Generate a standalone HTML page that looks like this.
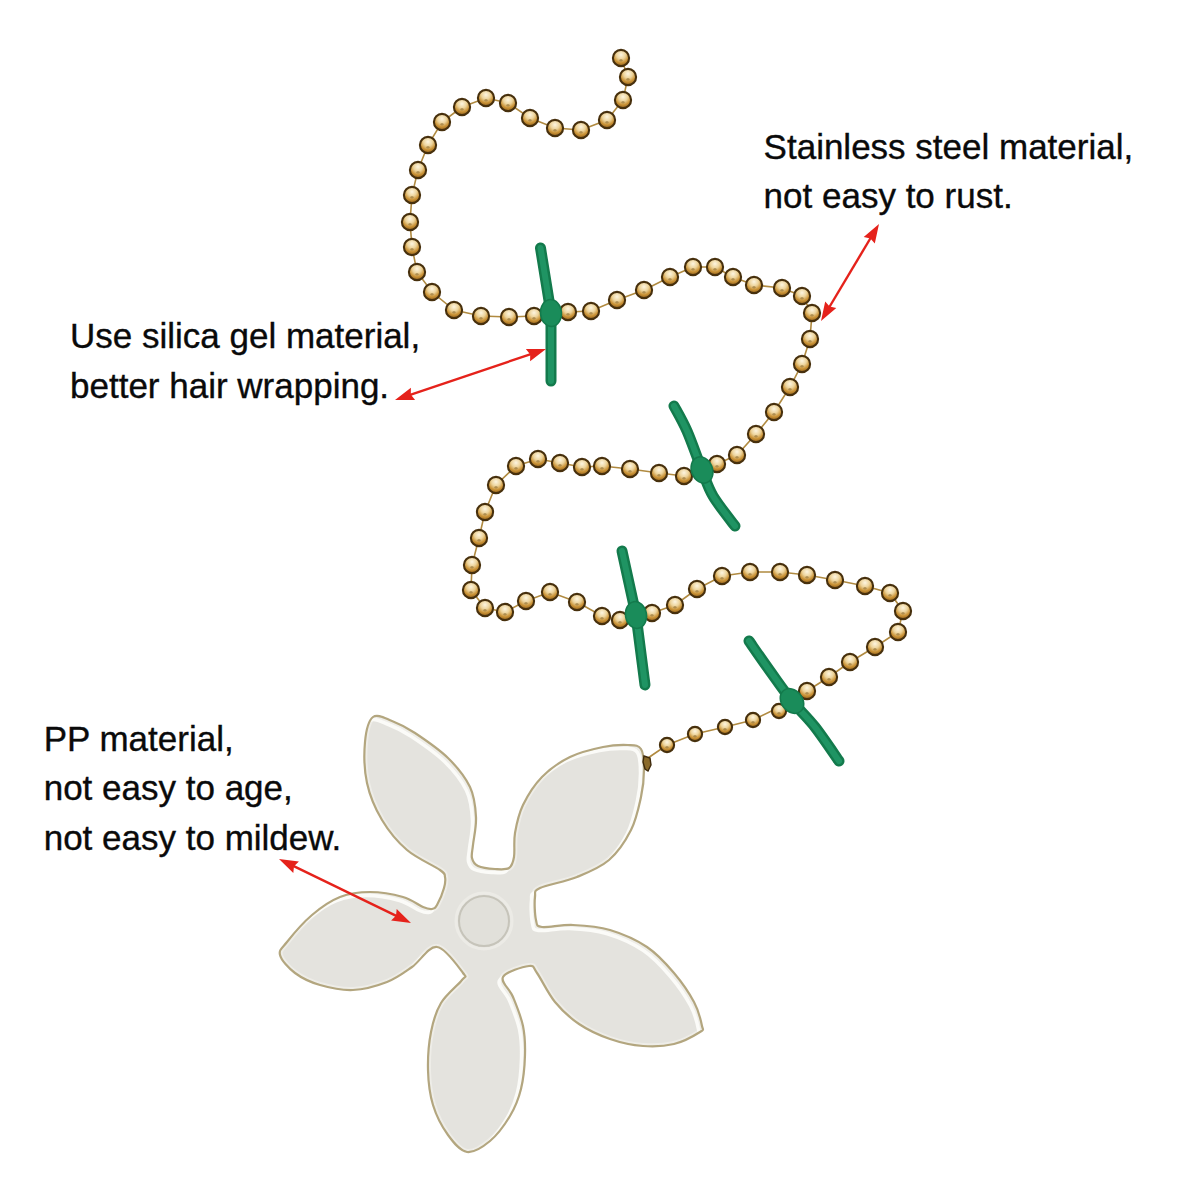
<!DOCTYPE html>
<html><head><meta charset="utf-8"><style>
html,body{margin:0;padding:0;background:#fff;}
#root{position:relative;width:1200px;height:1200px;overflow:hidden;background:#fff;}
.t{position:absolute;font-family:"Liberation Sans",sans-serif;font-size:35px;line-height:35px;color:#0a0a0a;white-space:nowrap;-webkit-text-stroke:0.35px #0a0a0a;}
</style></head><body><div id="root">
<svg width="1200" height="1200" viewBox="0 0 1200 1200" style="position:absolute;left:0;top:0"><defs>
<radialGradient id="bg" cx="50%" cy="30%" r="68%">
<stop offset="0" stop-color="#fdf5e0"/><stop offset="0.4" stop-color="#edd49c"/><stop offset="0.72" stop-color="#ca9337"/><stop offset="1" stop-color="#98661e"/>
</radialGradient>
</defs><clipPath id="fc"><path d="M373,717 C377.5,713.5 385.0,718.3 392,721 C399.0,723.7 405.7,726.8 415,733 C424.3,739.2 438.8,749.0 448,758 C457.2,767.0 465.3,777.2 470,787 C474.7,796.8 475.5,807.3 476,817 C476.5,826.7 473.7,838.2 473,845 C472.3,851.8 471.2,854.5 472,858 C472.8,861.5 474.2,864.2 478,866 C481.8,867.8 489.8,868.7 495,869 C500.2,869.3 505.8,870.0 509,868 C512.2,866.0 513.0,862.8 514,857 C515.0,851.2 513.5,841.7 515,833 C516.5,824.3 518.5,814.3 523,805 C527.5,795.7 534.2,785.0 542,777 C549.8,769.0 559.8,762.0 570,757 C580.2,752.0 593.3,749.0 603,747 C612.7,745.0 621.7,744.7 628,745 C634.3,745.3 638.3,744.8 641,749 C643.7,753.2 644.0,762.0 644,770 C644.0,778.0 643.2,787.0 641,797 C638.8,807.0 636.3,819.5 631,830 C625.7,840.5 618.0,852.2 609,860 C600.0,867.8 588.5,872.3 577,877 C565.5,881.7 547.0,884.7 540,888 C533.0,891.3 535.7,891.7 535,897 C534.3,902.3 534.8,915.0 536,920 C537.2,925.0 535.8,926.2 542,927 C548.2,927.8 561.7,924.5 573,925 C584.3,925.5 597.7,926.3 610,930 C622.3,933.7 636.3,939.8 647,947 C657.7,954.2 666.2,963.8 674,973 C681.8,982.2 689.3,993.2 694,1002 C698.7,1010.8 701.0,1021.0 702,1026 C703.0,1031.0 704.7,1029.0 700,1032 C695.3,1035.0 683.5,1041.7 674,1044 C664.5,1046.3 653.7,1046.8 643,1046 C632.3,1045.2 620.7,1042.7 610,1039 C599.3,1035.3 588.2,1030.2 579,1024 C569.8,1017.8 562.0,1010.5 555,1002 C548.0,993.5 541.3,979.0 537,973 C532.7,967.0 534.7,965.3 529,966 C523.3,966.7 505.7,971.8 503,977 C500.3,982.2 509.7,988.8 513,997 C516.3,1005.2 521.0,1016.3 523,1026 C525.0,1035.7 525.3,1044.5 525,1055 C524.7,1065.5 523.5,1078.8 521,1089 C518.5,1099.2 515.2,1107.3 510,1116 C504.8,1124.7 497.2,1135.0 490,1141 C482.8,1147.0 474.0,1153.0 467,1152 C460.0,1151.0 453.7,1142.8 448,1135 C442.3,1127.2 436.3,1115.8 433,1105 C429.7,1094.2 428.3,1082.2 428,1070 C427.7,1057.8 428.8,1043.2 431,1032 C433.2,1020.8 435.8,1011.7 441,1003 C446.2,994.3 458.3,985.0 462,980 C465.7,975.0 467.2,978.5 463,973 C458.8,967.5 445.5,948.0 437,947 C428.5,946.0 420.3,961.2 412,967 C403.7,972.8 396.8,978.2 387,982 C377.2,985.8 364.2,989.5 353,990 C341.8,990.5 329.7,987.8 320,985 C310.3,982.2 301.7,978.0 295,973 C288.3,968.0 281.3,960.2 280,955 C278.7,949.8 281.7,948.7 287,942 C292.3,935.3 303.2,922.5 312,915 C320.8,907.5 330.3,900.8 340,897 C349.7,893.2 359.5,892.0 370,892 C380.5,892.0 394.2,894.5 403,897 C411.8,899.5 418.2,905.0 423,907 C427.8,909.0 429.7,909.3 432,909 C434.3,908.7 435.0,908.5 437,905 C439.0,901.5 442.7,892.7 444,888 C445.3,883.3 445.7,880.0 445,877 C444.3,874.0 446.3,874.5 440,870 C433.7,865.5 416.7,858.3 407,850 C397.3,841.7 388.7,831.2 382,820 C375.3,808.8 369.8,796.0 367,783 C364.2,770.0 364.0,753.0 365,742 C366.0,731.0 368.5,720.5 373,717Z"/></clipPath><path d="M373,717 C377.5,713.5 385.0,718.3 392,721 C399.0,723.7 405.7,726.8 415,733 C424.3,739.2 438.8,749.0 448,758 C457.2,767.0 465.3,777.2 470,787 C474.7,796.8 475.5,807.3 476,817 C476.5,826.7 473.7,838.2 473,845 C472.3,851.8 471.2,854.5 472,858 C472.8,861.5 474.2,864.2 478,866 C481.8,867.8 489.8,868.7 495,869 C500.2,869.3 505.8,870.0 509,868 C512.2,866.0 513.0,862.8 514,857 C515.0,851.2 513.5,841.7 515,833 C516.5,824.3 518.5,814.3 523,805 C527.5,795.7 534.2,785.0 542,777 C549.8,769.0 559.8,762.0 570,757 C580.2,752.0 593.3,749.0 603,747 C612.7,745.0 621.7,744.7 628,745 C634.3,745.3 638.3,744.8 641,749 C643.7,753.2 644.0,762.0 644,770 C644.0,778.0 643.2,787.0 641,797 C638.8,807.0 636.3,819.5 631,830 C625.7,840.5 618.0,852.2 609,860 C600.0,867.8 588.5,872.3 577,877 C565.5,881.7 547.0,884.7 540,888 C533.0,891.3 535.7,891.7 535,897 C534.3,902.3 534.8,915.0 536,920 C537.2,925.0 535.8,926.2 542,927 C548.2,927.8 561.7,924.5 573,925 C584.3,925.5 597.7,926.3 610,930 C622.3,933.7 636.3,939.8 647,947 C657.7,954.2 666.2,963.8 674,973 C681.8,982.2 689.3,993.2 694,1002 C698.7,1010.8 701.0,1021.0 702,1026 C703.0,1031.0 704.7,1029.0 700,1032 C695.3,1035.0 683.5,1041.7 674,1044 C664.5,1046.3 653.7,1046.8 643,1046 C632.3,1045.2 620.7,1042.7 610,1039 C599.3,1035.3 588.2,1030.2 579,1024 C569.8,1017.8 562.0,1010.5 555,1002 C548.0,993.5 541.3,979.0 537,973 C532.7,967.0 534.7,965.3 529,966 C523.3,966.7 505.7,971.8 503,977 C500.3,982.2 509.7,988.8 513,997 C516.3,1005.2 521.0,1016.3 523,1026 C525.0,1035.7 525.3,1044.5 525,1055 C524.7,1065.5 523.5,1078.8 521,1089 C518.5,1099.2 515.2,1107.3 510,1116 C504.8,1124.7 497.2,1135.0 490,1141 C482.8,1147.0 474.0,1153.0 467,1152 C460.0,1151.0 453.7,1142.8 448,1135 C442.3,1127.2 436.3,1115.8 433,1105 C429.7,1094.2 428.3,1082.2 428,1070 C427.7,1057.8 428.8,1043.2 431,1032 C433.2,1020.8 435.8,1011.7 441,1003 C446.2,994.3 458.3,985.0 462,980 C465.7,975.0 467.2,978.5 463,973 C458.8,967.5 445.5,948.0 437,947 C428.5,946.0 420.3,961.2 412,967 C403.7,972.8 396.8,978.2 387,982 C377.2,985.8 364.2,989.5 353,990 C341.8,990.5 329.7,987.8 320,985 C310.3,982.2 301.7,978.0 295,973 C288.3,968.0 281.3,960.2 280,955 C278.7,949.8 281.7,948.7 287,942 C292.3,935.3 303.2,922.5 312,915 C320.8,907.5 330.3,900.8 340,897 C349.7,893.2 359.5,892.0 370,892 C380.5,892.0 394.2,894.5 403,897 C411.8,899.5 418.2,905.0 423,907 C427.8,909.0 429.7,909.3 432,909 C434.3,908.7 435.0,908.5 437,905 C439.0,901.5 442.7,892.7 444,888 C445.3,883.3 445.7,880.0 445,877 C444.3,874.0 446.3,874.5 440,870 C433.7,865.5 416.7,858.3 407,850 C397.3,841.7 388.7,831.2 382,820 C375.3,808.8 369.8,796.0 367,783 C364.2,770.0 364.0,753.0 365,742 C366.0,731.0 368.5,720.5 373,717Z" fill="#e4e3de"/><path d="M373,717 C377.5,713.5 385.0,718.3 392,721 C399.0,723.7 405.7,726.8 415,733 C424.3,739.2 438.8,749.0 448,758 C457.2,767.0 465.3,777.2 470,787 C474.7,796.8 475.5,807.3 476,817 C476.5,826.7 473.7,838.2 473,845 C472.3,851.8 471.2,854.5 472,858 C472.8,861.5 474.2,864.2 478,866 C481.8,867.8 489.8,868.7 495,869 C500.2,869.3 505.8,870.0 509,868 C512.2,866.0 513.0,862.8 514,857 C515.0,851.2 513.5,841.7 515,833 C516.5,824.3 518.5,814.3 523,805 C527.5,795.7 534.2,785.0 542,777 C549.8,769.0 559.8,762.0 570,757 C580.2,752.0 593.3,749.0 603,747 C612.7,745.0 621.7,744.7 628,745 C634.3,745.3 638.3,744.8 641,749 C643.7,753.2 644.0,762.0 644,770 C644.0,778.0 643.2,787.0 641,797 C638.8,807.0 636.3,819.5 631,830 C625.7,840.5 618.0,852.2 609,860 C600.0,867.8 588.5,872.3 577,877 C565.5,881.7 547.0,884.7 540,888 C533.0,891.3 535.7,891.7 535,897 C534.3,902.3 534.8,915.0 536,920 C537.2,925.0 535.8,926.2 542,927 C548.2,927.8 561.7,924.5 573,925 C584.3,925.5 597.7,926.3 610,930 C622.3,933.7 636.3,939.8 647,947 C657.7,954.2 666.2,963.8 674,973 C681.8,982.2 689.3,993.2 694,1002 C698.7,1010.8 701.0,1021.0 702,1026 C703.0,1031.0 704.7,1029.0 700,1032 C695.3,1035.0 683.5,1041.7 674,1044 C664.5,1046.3 653.7,1046.8 643,1046 C632.3,1045.2 620.7,1042.7 610,1039 C599.3,1035.3 588.2,1030.2 579,1024 C569.8,1017.8 562.0,1010.5 555,1002 C548.0,993.5 541.3,979.0 537,973 C532.7,967.0 534.7,965.3 529,966 C523.3,966.7 505.7,971.8 503,977 C500.3,982.2 509.7,988.8 513,997 C516.3,1005.2 521.0,1016.3 523,1026 C525.0,1035.7 525.3,1044.5 525,1055 C524.7,1065.5 523.5,1078.8 521,1089 C518.5,1099.2 515.2,1107.3 510,1116 C504.8,1124.7 497.2,1135.0 490,1141 C482.8,1147.0 474.0,1153.0 467,1152 C460.0,1151.0 453.7,1142.8 448,1135 C442.3,1127.2 436.3,1115.8 433,1105 C429.7,1094.2 428.3,1082.2 428,1070 C427.7,1057.8 428.8,1043.2 431,1032 C433.2,1020.8 435.8,1011.7 441,1003 C446.2,994.3 458.3,985.0 462,980 C465.7,975.0 467.2,978.5 463,973 C458.8,967.5 445.5,948.0 437,947 C428.5,946.0 420.3,961.2 412,967 C403.7,972.8 396.8,978.2 387,982 C377.2,985.8 364.2,989.5 353,990 C341.8,990.5 329.7,987.8 320,985 C310.3,982.2 301.7,978.0 295,973 C288.3,968.0 281.3,960.2 280,955 C278.7,949.8 281.7,948.7 287,942 C292.3,935.3 303.2,922.5 312,915 C320.8,907.5 330.3,900.8 340,897 C349.7,893.2 359.5,892.0 370,892 C380.5,892.0 394.2,894.5 403,897 C411.8,899.5 418.2,905.0 423,907 C427.8,909.0 429.7,909.3 432,909 C434.3,908.7 435.0,908.5 437,905 C439.0,901.5 442.7,892.7 444,888 C445.3,883.3 445.7,880.0 445,877 C444.3,874.0 446.3,874.5 440,870 C433.7,865.5 416.7,858.3 407,850 C397.3,841.7 388.7,831.2 382,820 C375.3,808.8 369.8,796.0 367,783 C364.2,770.0 364.0,753.0 365,742 C366.0,731.0 368.5,720.5 373,717Z" fill="none" stroke="#eeede8" stroke-width="6" clip-path="url(#fc)" stroke-linejoin="round"/><g clip-path="url(#fc)"><path d="M373,717 C377.5,713.5 385.0,718.3 392,721 C399.0,723.7 405.7,726.8 415,733 C424.3,739.2 438.8,749.0 448,758 C457.2,767.0 465.3,777.2 470,787 C474.7,796.8 475.5,807.3 476,817 C476.5,826.7 473.7,838.2 473,845 C472.3,851.8 471.2,854.5 472,858 C472.8,861.5 474.2,864.2 478,866 C481.8,867.8 489.8,868.7 495,869 C500.2,869.3 505.8,870.0 509,868 C512.2,866.0 513.0,862.8 514,857 C515.0,851.2 513.5,841.7 515,833 C516.5,824.3 518.5,814.3 523,805 C527.5,795.7 534.2,785.0 542,777 C549.8,769.0 559.8,762.0 570,757 C580.2,752.0 593.3,749.0 603,747 C612.7,745.0 621.7,744.7 628,745 C634.3,745.3 638.3,744.8 641,749 C643.7,753.2 644.0,762.0 644,770 C644.0,778.0 643.2,787.0 641,797 C638.8,807.0 636.3,819.5 631,830 C625.7,840.5 618.0,852.2 609,860 C600.0,867.8 588.5,872.3 577,877 C565.5,881.7 547.0,884.7 540,888 C533.0,891.3 535.7,891.7 535,897 C534.3,902.3 534.8,915.0 536,920 C537.2,925.0 535.8,926.2 542,927 C548.2,927.8 561.7,924.5 573,925 C584.3,925.5 597.7,926.3 610,930 C622.3,933.7 636.3,939.8 647,947 C657.7,954.2 666.2,963.8 674,973 C681.8,982.2 689.3,993.2 694,1002 C698.7,1010.8 701.0,1021.0 702,1026 C703.0,1031.0 704.7,1029.0 700,1032 C695.3,1035.0 683.5,1041.7 674,1044 C664.5,1046.3 653.7,1046.8 643,1046 C632.3,1045.2 620.7,1042.7 610,1039 C599.3,1035.3 588.2,1030.2 579,1024 C569.8,1017.8 562.0,1010.5 555,1002 C548.0,993.5 541.3,979.0 537,973 C532.7,967.0 534.7,965.3 529,966 C523.3,966.7 505.7,971.8 503,977 C500.3,982.2 509.7,988.8 513,997 C516.3,1005.2 521.0,1016.3 523,1026 C525.0,1035.7 525.3,1044.5 525,1055 C524.7,1065.5 523.5,1078.8 521,1089 C518.5,1099.2 515.2,1107.3 510,1116 C504.8,1124.7 497.2,1135.0 490,1141 C482.8,1147.0 474.0,1153.0 467,1152 C460.0,1151.0 453.7,1142.8 448,1135 C442.3,1127.2 436.3,1115.8 433,1105 C429.7,1094.2 428.3,1082.2 428,1070 C427.7,1057.8 428.8,1043.2 431,1032 C433.2,1020.8 435.8,1011.7 441,1003 C446.2,994.3 458.3,985.0 462,980 C465.7,975.0 467.2,978.5 463,973 C458.8,967.5 445.5,948.0 437,947 C428.5,946.0 420.3,961.2 412,967 C403.7,972.8 396.8,978.2 387,982 C377.2,985.8 364.2,989.5 353,990 C341.8,990.5 329.7,987.8 320,985 C310.3,982.2 301.7,978.0 295,973 C288.3,968.0 281.3,960.2 280,955 C278.7,949.8 281.7,948.7 287,942 C292.3,935.3 303.2,922.5 312,915 C320.8,907.5 330.3,900.8 340,897 C349.7,893.2 359.5,892.0 370,892 C380.5,892.0 394.2,894.5 403,897 C411.8,899.5 418.2,905.0 423,907 C427.8,909.0 429.7,909.3 432,909 C434.3,908.7 435.0,908.5 437,905 C439.0,901.5 442.7,892.7 444,888 C445.3,883.3 445.7,880.0 445,877 C444.3,874.0 446.3,874.5 440,870 C433.7,865.5 416.7,858.3 407,850 C397.3,841.7 388.7,831.2 382,820 C375.3,808.8 369.8,796.0 367,783 C364.2,770.0 364.0,753.0 365,742 C366.0,731.0 368.5,720.5 373,717Z" transform="translate(-3.5,3.5)" fill="none" stroke="#fbfbf8" stroke-width="3.5" stroke-linejoin="round"/></g><path d="M373,717 C377.5,713.5 385.0,718.3 392,721 C399.0,723.7 405.7,726.8 415,733 C424.3,739.2 438.8,749.0 448,758 C457.2,767.0 465.3,777.2 470,787 C474.7,796.8 475.5,807.3 476,817 C476.5,826.7 473.7,838.2 473,845 C472.3,851.8 471.2,854.5 472,858 C472.8,861.5 474.2,864.2 478,866 C481.8,867.8 489.8,868.7 495,869 C500.2,869.3 505.8,870.0 509,868 C512.2,866.0 513.0,862.8 514,857 C515.0,851.2 513.5,841.7 515,833 C516.5,824.3 518.5,814.3 523,805 C527.5,795.7 534.2,785.0 542,777 C549.8,769.0 559.8,762.0 570,757 C580.2,752.0 593.3,749.0 603,747 C612.7,745.0 621.7,744.7 628,745 C634.3,745.3 638.3,744.8 641,749 C643.7,753.2 644.0,762.0 644,770 C644.0,778.0 643.2,787.0 641,797 C638.8,807.0 636.3,819.5 631,830 C625.7,840.5 618.0,852.2 609,860 C600.0,867.8 588.5,872.3 577,877 C565.5,881.7 547.0,884.7 540,888 C533.0,891.3 535.7,891.7 535,897 C534.3,902.3 534.8,915.0 536,920 C537.2,925.0 535.8,926.2 542,927 C548.2,927.8 561.7,924.5 573,925 C584.3,925.5 597.7,926.3 610,930 C622.3,933.7 636.3,939.8 647,947 C657.7,954.2 666.2,963.8 674,973 C681.8,982.2 689.3,993.2 694,1002 C698.7,1010.8 701.0,1021.0 702,1026 C703.0,1031.0 704.7,1029.0 700,1032 C695.3,1035.0 683.5,1041.7 674,1044 C664.5,1046.3 653.7,1046.8 643,1046 C632.3,1045.2 620.7,1042.7 610,1039 C599.3,1035.3 588.2,1030.2 579,1024 C569.8,1017.8 562.0,1010.5 555,1002 C548.0,993.5 541.3,979.0 537,973 C532.7,967.0 534.7,965.3 529,966 C523.3,966.7 505.7,971.8 503,977 C500.3,982.2 509.7,988.8 513,997 C516.3,1005.2 521.0,1016.3 523,1026 C525.0,1035.7 525.3,1044.5 525,1055 C524.7,1065.5 523.5,1078.8 521,1089 C518.5,1099.2 515.2,1107.3 510,1116 C504.8,1124.7 497.2,1135.0 490,1141 C482.8,1147.0 474.0,1153.0 467,1152 C460.0,1151.0 453.7,1142.8 448,1135 C442.3,1127.2 436.3,1115.8 433,1105 C429.7,1094.2 428.3,1082.2 428,1070 C427.7,1057.8 428.8,1043.2 431,1032 C433.2,1020.8 435.8,1011.7 441,1003 C446.2,994.3 458.3,985.0 462,980 C465.7,975.0 467.2,978.5 463,973 C458.8,967.5 445.5,948.0 437,947 C428.5,946.0 420.3,961.2 412,967 C403.7,972.8 396.8,978.2 387,982 C377.2,985.8 364.2,989.5 353,990 C341.8,990.5 329.7,987.8 320,985 C310.3,982.2 301.7,978.0 295,973 C288.3,968.0 281.3,960.2 280,955 C278.7,949.8 281.7,948.7 287,942 C292.3,935.3 303.2,922.5 312,915 C320.8,907.5 330.3,900.8 340,897 C349.7,893.2 359.5,892.0 370,892 C380.5,892.0 394.2,894.5 403,897 C411.8,899.5 418.2,905.0 423,907 C427.8,909.0 429.7,909.3 432,909 C434.3,908.7 435.0,908.5 437,905 C439.0,901.5 442.7,892.7 444,888 C445.3,883.3 445.7,880.0 445,877 C444.3,874.0 446.3,874.5 440,870 C433.7,865.5 416.7,858.3 407,850 C397.3,841.7 388.7,831.2 382,820 C375.3,808.8 369.8,796.0 367,783 C364.2,770.0 364.0,753.0 365,742 C366.0,731.0 368.5,720.5 373,717Z" fill="none" stroke="#b3a67f" stroke-width="2.2" stroke-linejoin="round"/><circle cx="484" cy="921" r="25" fill="#e1e0da" stroke="#c6c4ba" stroke-width="2"/><circle cx="484" cy="921" r="28" fill="none" stroke="#ecebe6" stroke-width="3"/><path d="M621,58 L628,77 L623,100 L607,120 L581,130 L555,128 L530,118 L508,103 L486,98 L462,107 L442,122 L428,145 L418,170 L412,195 L410,222 L412,247 L417,272 L432,292 L454,310 L481,316 L509,317 L534,316 L551,313 L568,312 L591,311 L617,300 L644,290 L670,277 L693,267 L715,267 L733,277 L754,285 L782,288 L802,296 L812,313 L810,339 L802,364 L790,387 L774,412 L756,434 L737,455 L717,464 L702,470 L684,476 L659,473 L630,469 L602,466 L582,467 L560,463 L538,459 L516,466 L496,485 L485,512 L479,538 L472,565 L471,590 L485,608 L505,612 L526,601 L550,592 L577,602 L602,616 L620,620 L636,615 L652,613 L675,605 L697,589 L722,576 L750,572 L780,572 L807,575 L835,580 L865,586 L890,593 L903,611 L898,632 L875,647 L850,662 L829,677 L807,691 L779,711 L792,701 L753,720 L725,727 L695,734 L667,745 L648,758" fill="none" stroke="#b08a40" stroke-width="1.6"/><circle cx="621" cy="58" r="8.10" fill="url(#bg)" stroke="#47300d" stroke-width="2.1"/><ellipse cx="621" cy="60.2" rx="1.6" ry="1.3" fill="#6a4a14" opacity="0.4"/><circle cx="628" cy="77" r="8.10" fill="url(#bg)" stroke="#47300d" stroke-width="2.1"/><ellipse cx="628" cy="79.2" rx="1.6" ry="1.3" fill="#6a4a14" opacity="0.4"/><circle cx="623" cy="100" r="8.10" fill="url(#bg)" stroke="#47300d" stroke-width="2.1"/><ellipse cx="623" cy="102.2" rx="1.6" ry="1.3" fill="#6a4a14" opacity="0.4"/><circle cx="607" cy="120" r="8.10" fill="url(#bg)" stroke="#47300d" stroke-width="2.1"/><ellipse cx="607" cy="122.2" rx="1.6" ry="1.3" fill="#6a4a14" opacity="0.4"/><circle cx="581" cy="130" r="8.10" fill="url(#bg)" stroke="#47300d" stroke-width="2.1"/><ellipse cx="581" cy="132.2" rx="1.6" ry="1.3" fill="#6a4a14" opacity="0.4"/><circle cx="555" cy="128" r="8.10" fill="url(#bg)" stroke="#47300d" stroke-width="2.1"/><ellipse cx="555" cy="130.2" rx="1.6" ry="1.3" fill="#6a4a14" opacity="0.4"/><circle cx="530" cy="118" r="8.10" fill="url(#bg)" stroke="#47300d" stroke-width="2.1"/><ellipse cx="530" cy="120.2" rx="1.6" ry="1.3" fill="#6a4a14" opacity="0.4"/><circle cx="508" cy="103" r="8.10" fill="url(#bg)" stroke="#47300d" stroke-width="2.1"/><ellipse cx="508" cy="105.2" rx="1.6" ry="1.3" fill="#6a4a14" opacity="0.4"/><circle cx="486" cy="98" r="8.10" fill="url(#bg)" stroke="#47300d" stroke-width="2.1"/><ellipse cx="486" cy="100.2" rx="1.6" ry="1.3" fill="#6a4a14" opacity="0.4"/><circle cx="462" cy="107" r="8.10" fill="url(#bg)" stroke="#47300d" stroke-width="2.1"/><ellipse cx="462" cy="109.2" rx="1.6" ry="1.3" fill="#6a4a14" opacity="0.4"/><circle cx="442" cy="122" r="8.10" fill="url(#bg)" stroke="#47300d" stroke-width="2.1"/><ellipse cx="442" cy="124.2" rx="1.6" ry="1.3" fill="#6a4a14" opacity="0.4"/><circle cx="428" cy="145" r="8.10" fill="url(#bg)" stroke="#47300d" stroke-width="2.1"/><ellipse cx="428" cy="147.2" rx="1.6" ry="1.3" fill="#6a4a14" opacity="0.4"/><circle cx="418" cy="170" r="8.10" fill="url(#bg)" stroke="#47300d" stroke-width="2.1"/><ellipse cx="418" cy="172.2" rx="1.6" ry="1.3" fill="#6a4a14" opacity="0.4"/><circle cx="412" cy="195" r="8.10" fill="url(#bg)" stroke="#47300d" stroke-width="2.1"/><ellipse cx="412" cy="197.2" rx="1.6" ry="1.3" fill="#6a4a14" opacity="0.4"/><circle cx="410" cy="222" r="8.10" fill="url(#bg)" stroke="#47300d" stroke-width="2.1"/><ellipse cx="410" cy="224.2" rx="1.6" ry="1.3" fill="#6a4a14" opacity="0.4"/><circle cx="412" cy="247" r="8.10" fill="url(#bg)" stroke="#47300d" stroke-width="2.1"/><ellipse cx="412" cy="249.2" rx="1.6" ry="1.3" fill="#6a4a14" opacity="0.4"/><circle cx="417" cy="272" r="8.10" fill="url(#bg)" stroke="#47300d" stroke-width="2.1"/><ellipse cx="417" cy="274.2" rx="1.6" ry="1.3" fill="#6a4a14" opacity="0.4"/><circle cx="432" cy="292" r="8.10" fill="url(#bg)" stroke="#47300d" stroke-width="2.1"/><ellipse cx="432" cy="294.2" rx="1.6" ry="1.3" fill="#6a4a14" opacity="0.4"/><circle cx="454" cy="310" r="8.10" fill="url(#bg)" stroke="#47300d" stroke-width="2.1"/><ellipse cx="454" cy="312.2" rx="1.6" ry="1.3" fill="#6a4a14" opacity="0.4"/><circle cx="481" cy="316" r="8.10" fill="url(#bg)" stroke="#47300d" stroke-width="2.1"/><ellipse cx="481" cy="318.2" rx="1.6" ry="1.3" fill="#6a4a14" opacity="0.4"/><circle cx="509" cy="317" r="8.10" fill="url(#bg)" stroke="#47300d" stroke-width="2.1"/><ellipse cx="509" cy="319.2" rx="1.6" ry="1.3" fill="#6a4a14" opacity="0.4"/><circle cx="534" cy="316" r="8.10" fill="url(#bg)" stroke="#47300d" stroke-width="2.1"/><ellipse cx="534" cy="318.2" rx="1.6" ry="1.3" fill="#6a4a14" opacity="0.4"/><circle cx="568" cy="312" r="8.10" fill="url(#bg)" stroke="#47300d" stroke-width="2.1"/><ellipse cx="568" cy="314.2" rx="1.6" ry="1.3" fill="#6a4a14" opacity="0.4"/><circle cx="591" cy="311" r="8.10" fill="url(#bg)" stroke="#47300d" stroke-width="2.1"/><ellipse cx="591" cy="313.2" rx="1.6" ry="1.3" fill="#6a4a14" opacity="0.4"/><circle cx="617" cy="300" r="8.10" fill="url(#bg)" stroke="#47300d" stroke-width="2.1"/><ellipse cx="617" cy="302.2" rx="1.6" ry="1.3" fill="#6a4a14" opacity="0.4"/><circle cx="644" cy="290" r="8.10" fill="url(#bg)" stroke="#47300d" stroke-width="2.1"/><ellipse cx="644" cy="292.2" rx="1.6" ry="1.3" fill="#6a4a14" opacity="0.4"/><circle cx="670" cy="277" r="8.10" fill="url(#bg)" stroke="#47300d" stroke-width="2.1"/><ellipse cx="670" cy="279.2" rx="1.6" ry="1.3" fill="#6a4a14" opacity="0.4"/><circle cx="693" cy="267" r="8.10" fill="url(#bg)" stroke="#47300d" stroke-width="2.1"/><ellipse cx="693" cy="269.2" rx="1.6" ry="1.3" fill="#6a4a14" opacity="0.4"/><circle cx="715" cy="267" r="8.10" fill="url(#bg)" stroke="#47300d" stroke-width="2.1"/><ellipse cx="715" cy="269.2" rx="1.6" ry="1.3" fill="#6a4a14" opacity="0.4"/><circle cx="733" cy="277" r="8.10" fill="url(#bg)" stroke="#47300d" stroke-width="2.1"/><ellipse cx="733" cy="279.2" rx="1.6" ry="1.3" fill="#6a4a14" opacity="0.4"/><circle cx="754" cy="285" r="8.10" fill="url(#bg)" stroke="#47300d" stroke-width="2.1"/><ellipse cx="754" cy="287.2" rx="1.6" ry="1.3" fill="#6a4a14" opacity="0.4"/><circle cx="782" cy="288" r="8.10" fill="url(#bg)" stroke="#47300d" stroke-width="2.1"/><ellipse cx="782" cy="290.2" rx="1.6" ry="1.3" fill="#6a4a14" opacity="0.4"/><circle cx="802" cy="296" r="8.10" fill="url(#bg)" stroke="#47300d" stroke-width="2.1"/><ellipse cx="802" cy="298.2" rx="1.6" ry="1.3" fill="#6a4a14" opacity="0.4"/><circle cx="812" cy="313" r="8.10" fill="url(#bg)" stroke="#47300d" stroke-width="2.1"/><ellipse cx="812" cy="315.2" rx="1.6" ry="1.3" fill="#6a4a14" opacity="0.4"/><circle cx="810" cy="339" r="8.10" fill="url(#bg)" stroke="#47300d" stroke-width="2.1"/><ellipse cx="810" cy="341.2" rx="1.6" ry="1.3" fill="#6a4a14" opacity="0.4"/><circle cx="802" cy="364" r="8.10" fill="url(#bg)" stroke="#47300d" stroke-width="2.1"/><ellipse cx="802" cy="366.2" rx="1.6" ry="1.3" fill="#6a4a14" opacity="0.4"/><circle cx="790" cy="387" r="8.10" fill="url(#bg)" stroke="#47300d" stroke-width="2.1"/><ellipse cx="790" cy="389.2" rx="1.6" ry="1.3" fill="#6a4a14" opacity="0.4"/><circle cx="774" cy="412" r="8.10" fill="url(#bg)" stroke="#47300d" stroke-width="2.1"/><ellipse cx="774" cy="414.2" rx="1.6" ry="1.3" fill="#6a4a14" opacity="0.4"/><circle cx="756" cy="434" r="8.10" fill="url(#bg)" stroke="#47300d" stroke-width="2.1"/><ellipse cx="756" cy="436.2" rx="1.6" ry="1.3" fill="#6a4a14" opacity="0.4"/><circle cx="737" cy="455" r="8.10" fill="url(#bg)" stroke="#47300d" stroke-width="2.1"/><ellipse cx="737" cy="457.2" rx="1.6" ry="1.3" fill="#6a4a14" opacity="0.4"/><circle cx="717" cy="464" r="8.10" fill="url(#bg)" stroke="#47300d" stroke-width="2.1"/><ellipse cx="717" cy="466.2" rx="1.6" ry="1.3" fill="#6a4a14" opacity="0.4"/><circle cx="684" cy="476" r="8.10" fill="url(#bg)" stroke="#47300d" stroke-width="2.1"/><ellipse cx="684" cy="478.2" rx="1.6" ry="1.3" fill="#6a4a14" opacity="0.4"/><circle cx="659" cy="473" r="8.10" fill="url(#bg)" stroke="#47300d" stroke-width="2.1"/><ellipse cx="659" cy="475.2" rx="1.6" ry="1.3" fill="#6a4a14" opacity="0.4"/><circle cx="630" cy="469" r="8.10" fill="url(#bg)" stroke="#47300d" stroke-width="2.1"/><ellipse cx="630" cy="471.2" rx="1.6" ry="1.3" fill="#6a4a14" opacity="0.4"/><circle cx="602" cy="466" r="8.10" fill="url(#bg)" stroke="#47300d" stroke-width="2.1"/><ellipse cx="602" cy="468.2" rx="1.6" ry="1.3" fill="#6a4a14" opacity="0.4"/><circle cx="582" cy="467" r="8.10" fill="url(#bg)" stroke="#47300d" stroke-width="2.1"/><ellipse cx="582" cy="469.2" rx="1.6" ry="1.3" fill="#6a4a14" opacity="0.4"/><circle cx="560" cy="463" r="8.10" fill="url(#bg)" stroke="#47300d" stroke-width="2.1"/><ellipse cx="560" cy="465.2" rx="1.6" ry="1.3" fill="#6a4a14" opacity="0.4"/><circle cx="538" cy="459" r="8.10" fill="url(#bg)" stroke="#47300d" stroke-width="2.1"/><ellipse cx="538" cy="461.2" rx="1.6" ry="1.3" fill="#6a4a14" opacity="0.4"/><circle cx="516" cy="466" r="8.10" fill="url(#bg)" stroke="#47300d" stroke-width="2.1"/><ellipse cx="516" cy="468.2" rx="1.6" ry="1.3" fill="#6a4a14" opacity="0.4"/><circle cx="496" cy="485" r="8.10" fill="url(#bg)" stroke="#47300d" stroke-width="2.1"/><ellipse cx="496" cy="487.2" rx="1.6" ry="1.3" fill="#6a4a14" opacity="0.4"/><circle cx="485" cy="512" r="8.10" fill="url(#bg)" stroke="#47300d" stroke-width="2.1"/><ellipse cx="485" cy="514.2" rx="1.6" ry="1.3" fill="#6a4a14" opacity="0.4"/><circle cx="479" cy="538" r="8.10" fill="url(#bg)" stroke="#47300d" stroke-width="2.1"/><ellipse cx="479" cy="540.2" rx="1.6" ry="1.3" fill="#6a4a14" opacity="0.4"/><circle cx="472" cy="565" r="8.10" fill="url(#bg)" stroke="#47300d" stroke-width="2.1"/><ellipse cx="472" cy="567.2" rx="1.6" ry="1.3" fill="#6a4a14" opacity="0.4"/><circle cx="471" cy="590" r="8.10" fill="url(#bg)" stroke="#47300d" stroke-width="2.1"/><ellipse cx="471" cy="592.2" rx="1.6" ry="1.3" fill="#6a4a14" opacity="0.4"/><circle cx="485" cy="608" r="8.10" fill="url(#bg)" stroke="#47300d" stroke-width="2.1"/><ellipse cx="485" cy="610.2" rx="1.6" ry="1.3" fill="#6a4a14" opacity="0.4"/><circle cx="505" cy="612" r="8.10" fill="url(#bg)" stroke="#47300d" stroke-width="2.1"/><ellipse cx="505" cy="614.2" rx="1.6" ry="1.3" fill="#6a4a14" opacity="0.4"/><circle cx="526" cy="601" r="8.10" fill="url(#bg)" stroke="#47300d" stroke-width="2.1"/><ellipse cx="526" cy="603.2" rx="1.6" ry="1.3" fill="#6a4a14" opacity="0.4"/><circle cx="550" cy="592" r="8.10" fill="url(#bg)" stroke="#47300d" stroke-width="2.1"/><ellipse cx="550" cy="594.2" rx="1.6" ry="1.3" fill="#6a4a14" opacity="0.4"/><circle cx="577" cy="602" r="8.10" fill="url(#bg)" stroke="#47300d" stroke-width="2.1"/><ellipse cx="577" cy="604.2" rx="1.6" ry="1.3" fill="#6a4a14" opacity="0.4"/><circle cx="602" cy="616" r="8.10" fill="url(#bg)" stroke="#47300d" stroke-width="2.1"/><ellipse cx="602" cy="618.2" rx="1.6" ry="1.3" fill="#6a4a14" opacity="0.4"/><circle cx="620" cy="620" r="8.10" fill="url(#bg)" stroke="#47300d" stroke-width="2.1"/><ellipse cx="620" cy="622.2" rx="1.6" ry="1.3" fill="#6a4a14" opacity="0.4"/><circle cx="652" cy="613" r="8.10" fill="url(#bg)" stroke="#47300d" stroke-width="2.1"/><ellipse cx="652" cy="615.2" rx="1.6" ry="1.3" fill="#6a4a14" opacity="0.4"/><circle cx="675" cy="605" r="8.10" fill="url(#bg)" stroke="#47300d" stroke-width="2.1"/><ellipse cx="675" cy="607.2" rx="1.6" ry="1.3" fill="#6a4a14" opacity="0.4"/><circle cx="697" cy="589" r="8.10" fill="url(#bg)" stroke="#47300d" stroke-width="2.1"/><ellipse cx="697" cy="591.2" rx="1.6" ry="1.3" fill="#6a4a14" opacity="0.4"/><circle cx="722" cy="576" r="8.10" fill="url(#bg)" stroke="#47300d" stroke-width="2.1"/><ellipse cx="722" cy="578.2" rx="1.6" ry="1.3" fill="#6a4a14" opacity="0.4"/><circle cx="750" cy="572" r="8.10" fill="url(#bg)" stroke="#47300d" stroke-width="2.1"/><ellipse cx="750" cy="574.2" rx="1.6" ry="1.3" fill="#6a4a14" opacity="0.4"/><circle cx="780" cy="572" r="8.10" fill="url(#bg)" stroke="#47300d" stroke-width="2.1"/><ellipse cx="780" cy="574.2" rx="1.6" ry="1.3" fill="#6a4a14" opacity="0.4"/><circle cx="807" cy="575" r="8.10" fill="url(#bg)" stroke="#47300d" stroke-width="2.1"/><ellipse cx="807" cy="577.2" rx="1.6" ry="1.3" fill="#6a4a14" opacity="0.4"/><circle cx="835" cy="580" r="8.10" fill="url(#bg)" stroke="#47300d" stroke-width="2.1"/><ellipse cx="835" cy="582.2" rx="1.6" ry="1.3" fill="#6a4a14" opacity="0.4"/><circle cx="865" cy="586" r="8.10" fill="url(#bg)" stroke="#47300d" stroke-width="2.1"/><ellipse cx="865" cy="588.2" rx="1.6" ry="1.3" fill="#6a4a14" opacity="0.4"/><circle cx="890" cy="593" r="8.10" fill="url(#bg)" stroke="#47300d" stroke-width="2.1"/><ellipse cx="890" cy="595.2" rx="1.6" ry="1.3" fill="#6a4a14" opacity="0.4"/><circle cx="903" cy="611" r="8.10" fill="url(#bg)" stroke="#47300d" stroke-width="2.1"/><ellipse cx="903" cy="613.2" rx="1.6" ry="1.3" fill="#6a4a14" opacity="0.4"/><circle cx="898" cy="632" r="8.10" fill="url(#bg)" stroke="#47300d" stroke-width="2.1"/><ellipse cx="898" cy="634.2" rx="1.6" ry="1.3" fill="#6a4a14" opacity="0.4"/><circle cx="875" cy="647" r="8.10" fill="url(#bg)" stroke="#47300d" stroke-width="2.1"/><ellipse cx="875" cy="649.2" rx="1.6" ry="1.3" fill="#6a4a14" opacity="0.4"/><circle cx="850" cy="662" r="8.10" fill="url(#bg)" stroke="#47300d" stroke-width="2.1"/><ellipse cx="850" cy="664.2" rx="1.6" ry="1.3" fill="#6a4a14" opacity="0.4"/><circle cx="829" cy="677" r="8.10" fill="url(#bg)" stroke="#47300d" stroke-width="2.1"/><ellipse cx="829" cy="679.2" rx="1.6" ry="1.3" fill="#6a4a14" opacity="0.4"/><circle cx="807" cy="691" r="8.10" fill="url(#bg)" stroke="#47300d" stroke-width="2.1"/><ellipse cx="807" cy="693.2" rx="1.6" ry="1.3" fill="#6a4a14" opacity="0.4"/><circle cx="779" cy="711" r="7.10" fill="url(#bg)" stroke="#47300d" stroke-width="2.1"/><ellipse cx="779" cy="713.2" rx="1.6" ry="1.3" fill="#6a4a14" opacity="0.4"/><circle cx="753" cy="720" r="7.10" fill="url(#bg)" stroke="#47300d" stroke-width="2.1"/><ellipse cx="753" cy="722.2" rx="1.6" ry="1.3" fill="#6a4a14" opacity="0.4"/><circle cx="725" cy="727" r="7.10" fill="url(#bg)" stroke="#47300d" stroke-width="2.1"/><ellipse cx="725" cy="729.2" rx="1.6" ry="1.3" fill="#6a4a14" opacity="0.4"/><circle cx="695" cy="734" r="7.10" fill="url(#bg)" stroke="#47300d" stroke-width="2.1"/><ellipse cx="695" cy="736.2" rx="1.6" ry="1.3" fill="#6a4a14" opacity="0.4"/><circle cx="667" cy="745" r="7.10" fill="url(#bg)" stroke="#47300d" stroke-width="2.1"/><ellipse cx="667" cy="747.2" rx="1.6" ry="1.3" fill="#6a4a14" opacity="0.4"/><path d="M644,756 L650,758 L651,765 L648,771 L645,769 L643,762 Z" fill="#8a6a2a" stroke="#3e2a0c" stroke-width="1.4"/><path d="M540.5,248 L551,313 L551,381" fill="none" stroke="#137a4c" stroke-width="11" stroke-linecap="round"/><path d="M540.5,248 L551,313 L551,381" fill="none" stroke="#1f9463" stroke-width="6" stroke-linecap="round"/><ellipse cx="551" cy="313" rx="13.5" ry="10.5" transform="rotate(85.5 551 313)" fill="#1a8c5a" stroke="#137a4c" stroke-width="1.5"/><path d="M674,406 C676.2,410.2 682.3,420.3 687,431 C691.7,441.7 697.7,459.2 702,470 C706.3,480.8 707.5,486.7 713,496 C718.5,505.3 731.3,521.0 735,526" fill="none" stroke="#137a4c" stroke-width="11" stroke-linecap="round"/><path d="M674,406 C676.2,410.2 682.3,420.3 687,431 C691.7,441.7 697.7,459.2 702,470 C706.3,480.8 707.5,486.7 713,496 C718.5,505.3 731.3,521.0 735,526" fill="none" stroke="#1f9463" stroke-width="6" stroke-linecap="round"/><ellipse cx="702" cy="470" rx="13.5" ry="10.5" transform="rotate(68.2 702 470)" fill="#1a8c5a" stroke="#137a4c" stroke-width="1.5"/><path d="M622,551 L636,615 L645,685" fill="none" stroke="#137a4c" stroke-width="11" stroke-linecap="round"/><path d="M622,551 L636,615 L645,685" fill="none" stroke="#1f9463" stroke-width="6" stroke-linecap="round"/><ellipse cx="636" cy="615" rx="13.5" ry="10.5" transform="rotate(80.3 636 615)" fill="#1a8c5a" stroke="#137a4c" stroke-width="1.5"/><path d="M749,641 C752.5,646.0 762.8,661.0 770,671 C777.2,681.0 784.5,691.7 792,701 C799.5,710.3 807.2,717.0 815,727 C822.8,737.0 835.0,755.3 839,761" fill="none" stroke="#137a4c" stroke-width="11" stroke-linecap="round"/><path d="M749,641 C752.5,646.0 762.8,661.0 770,671 C777.2,681.0 784.5,691.7 792,701 C799.5,710.3 807.2,717.0 815,727 C822.8,737.0 835.0,755.3 839,761" fill="none" stroke="#1f9463" stroke-width="6" stroke-linecap="round"/><ellipse cx="792" cy="701" rx="13.5" ry="10.5" transform="rotate(51.2 792 701)" fill="#1a8c5a" stroke="#137a4c" stroke-width="1.5"/><line x1="409.4" y1="395.1" x2="531.6" y2="353.9" stroke="#e5221b" stroke-width="2.4"/><polygon points="395,400 415.1,400.1 410.8,394.6 410.9,387.8" fill="#e5221b"/><polygon points="546,349 530.1,361.2 530.2,354.4 525.9,348.9" fill="#e5221b"/><line x1="828.8" y1="308.0" x2="871.2" y2="237.0" stroke="#e5221b" stroke-width="2.4"/><polygon points="821,321 836.3,308.0 829.6,306.6 825.2,301.4" fill="#e5221b"/><polygon points="879,224 874.8,243.6 870.4,238.4 863.7,237.0" fill="#e5221b"/><line x1="292.7" y1="865.6" x2="397.3" y2="916.4" stroke="#e5221b" stroke-width="2.4"/><polygon points="279,859 293.3,873.1 294.0,866.3 298.9,861.4" fill="#e5221b"/><polygon points="411,923 391.1,920.6 396.0,915.7 396.7,908.9" fill="#e5221b"/></svg>
<div class="t" style="left:763.6px;top:128.7px">Stainless steel material,</div><div class="t" style="left:763.6px;top:178.3px">not easy to rust.</div><div class="t" style="left:70px;top:318.0px">Use silica gel material,</div><div class="t" style="left:70px;top:367.9px">better hair wrapping.</div><div class="t" style="left:43.7px;top:721.0px">PP material,</div><div class="t" style="left:43.7px;top:770.0px">not easy to age,</div><div class="t" style="left:43.7px;top:819.8px">not easy to mildew.</div>
</div></body></html>
